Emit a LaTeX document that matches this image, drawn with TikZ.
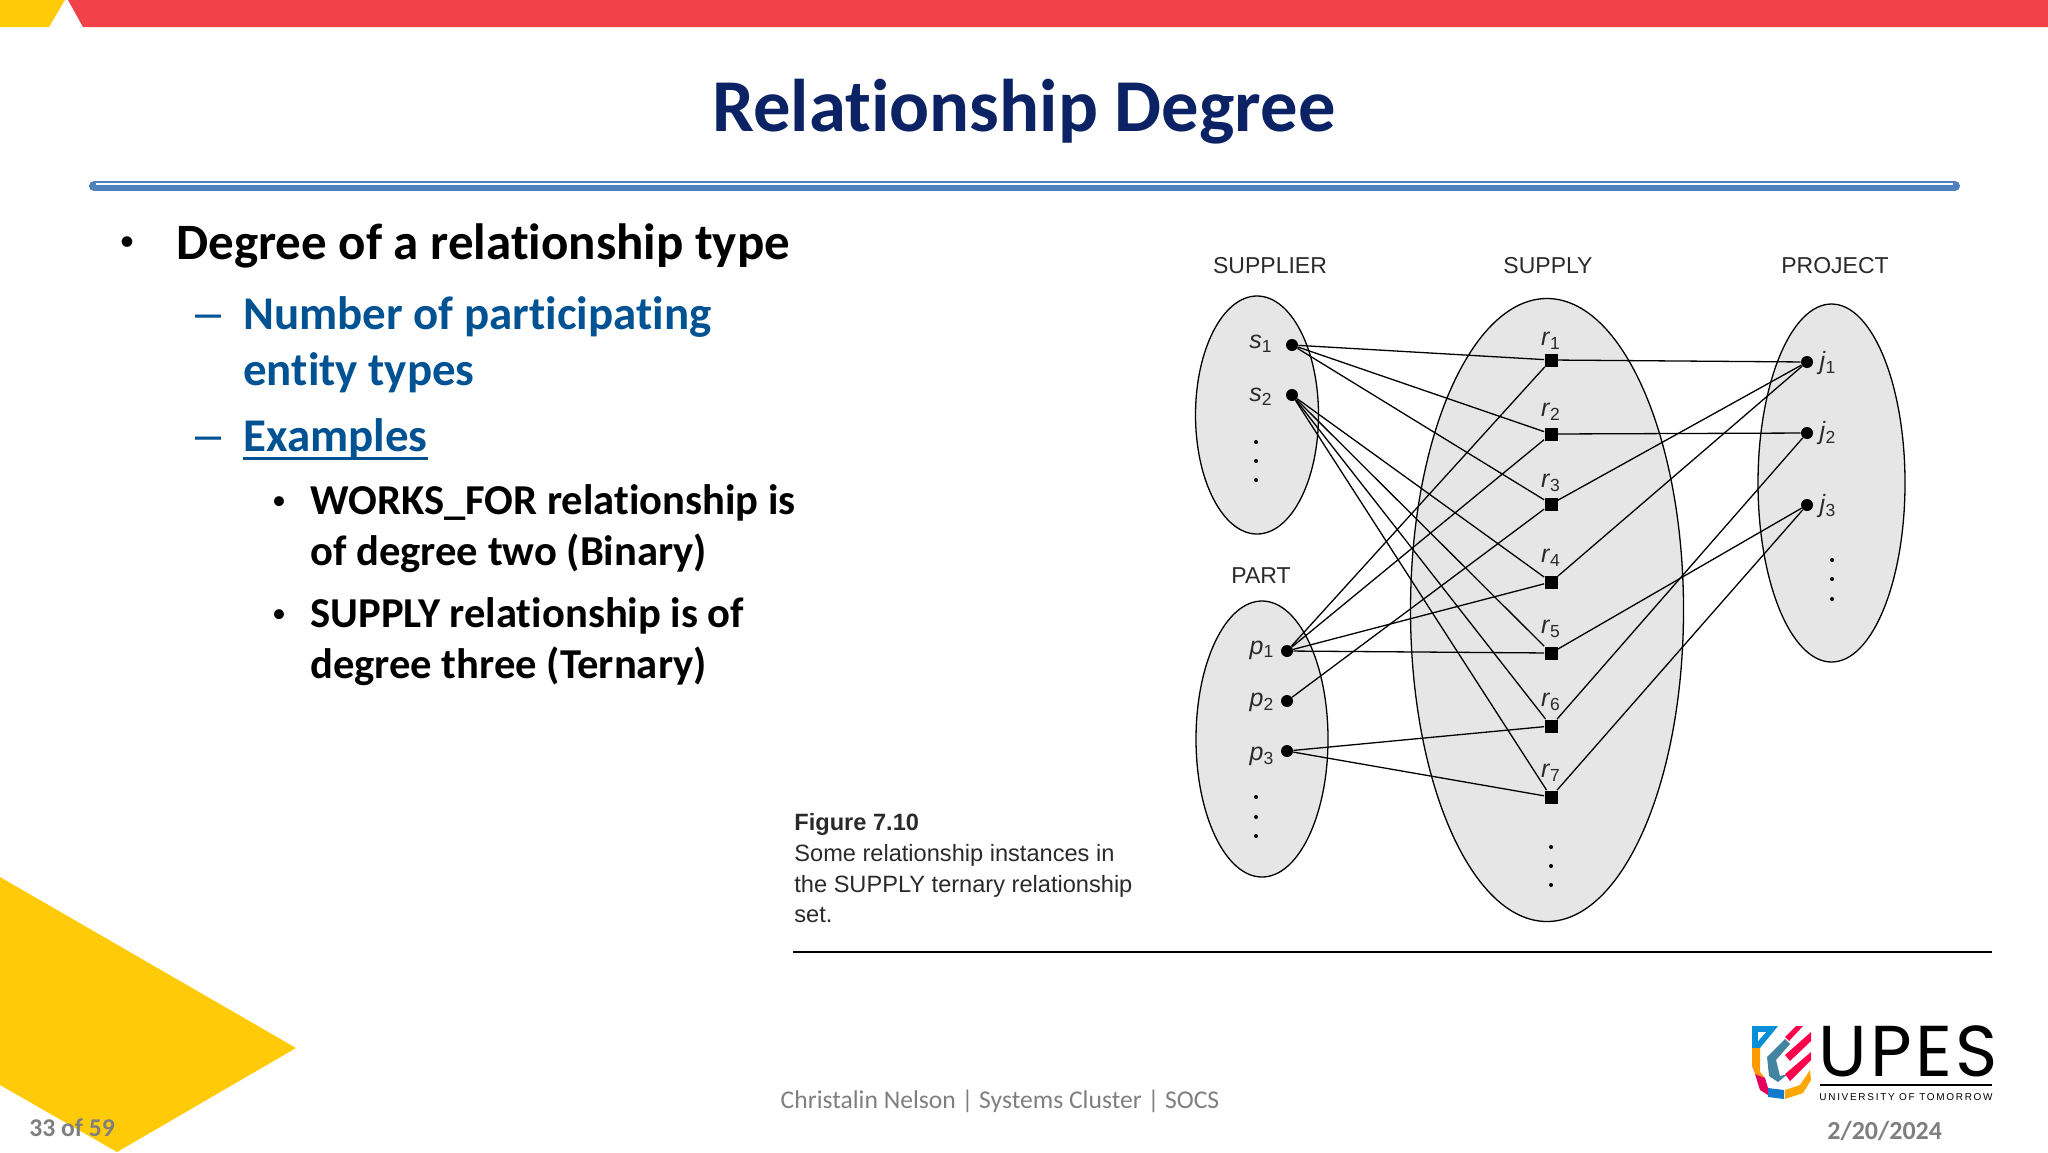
\documentclass[tikz,border=0pt]{standalone}
\usepackage{fontspec}
\setmainfont[Ligatures=NoCommon]{Carlito}
\newfontfamily\figfont{Liberation Sans}
\newfontfamily\logofont[LetterSpace=4.5]{Poppins}
\newfontfamily\tagfont[LetterSpace=17]{Liberation Sans}
\usetikzlibrary{shapes.geometric}

\definecolor{barred}{HTML}{F04248}
\definecolor{baryellow}{HTML}{FFCB08}
\definecolor{titlenavy}{HTML}{0B2265}
\definecolor{rulblue}{HTML}{4F81BD}
\definecolor{textblue}{HTML}{005293}
\definecolor{footgray}{HTML}{7F7F7F}
\definecolor{setgray}{HTML}{E6E6E6}
\definecolor{capgray}{HTML}{2A2A2A}

\newcommand{\sublab}[2]{\textit{#1}\textsubscript{#2}}

\tikzset{
    txt/.style={inner sep=0, anchor=base west, font=\fontsize{#1}{#1}\selectfont\bfseries},
    dot/.style={inner sep=0, anchor=base, font=\fontsize{#1}{#1}\selectfont},
    dashmark/.style={inner sep=0, anchor=base west, text=textblue, font=\figfont\fontsize{23.4}{23.4}\selectfont},
    settype/.style={shape=ellipse, draw=black, fill=setgray, line width=0.65pt, inner sep=0},
    head/.style={inner sep=0, text=capgray, font=\figfont\fontsize{11.5}{11.5}\selectfont},
    lab/.style={inner sep=0, text=capgray, font=\figfont\fontsize{12.5}{12.5}\selectfont},
    ent/.style={shape=circle, fill=black, inner sep=0, minimum size=6pt},
    rel/.style={shape=rectangle, fill=black, inner sep=0, minimum size=6.5pt},
    tick/.style={shape=circle, fill=black, inner sep=0, minimum size=2pt},
    link/.style={-, black, line width=0.65pt},
    capt/.style={inner sep=0, anchor=base west, text=capgray, font=\figfont\fontsize{11.8}{11.8}\selectfont}
}

\begin{document}
\begin{tikzpicture}[x=0.5pt,y=-0.5pt]
    \useasboundingbox (0,0) rectangle (2048,1152);

    % top bar and corner
    \fill[baryellow] (0,0) -- (65,0) -- (49,27) -- (0,27) -- cycle;
    \fill[barred] (68,0) -- (2048,0) -- (2048,27) -- (83,27) -- cycle;
    \fill[baryellow] (0,877) -- (296,1048) -- (117,1152) -- (0,1085) -- cycle;

    % title
    \node[inner sep=0, text=titlenavy, font=\fontsize{37.3}{37.3}\selectfont\bfseries] (title) at (1024,112) {Relationship Degree};
    \draw[rulblue, line width=5pt, line cap=round] (94,186) -- (1955,186);
    \draw[white, line width=0.9pt] (96,184) -- (1953,184);

    % bullets
    \node[dot=15] (b1) at (127,250) {•};
    \node[txt=25.5] (deg) at (176,259) {Degree of a relationship type};
    \node[dashmark] (d1) at (195,328) {–};
    \node[txt=23.45, text=textblue] (num) at (243,329) {Number of participating};
    \node[txt=23.45, text=textblue] (ent) at (243,385) {entity types};
    \node[dashmark] (d2) at (195,450) {–};
    \node[txt=23.45, text=textblue] (ex) at (243,451) {Examples};
    \draw[textblue, line width=1.5pt] ([yshift=-3.5pt]ex.base west) -- ([yshift=-3.5pt]ex.base east);
    \node[dot=14] (b2) at (279,509) {•};
    \node[txt=21.3] (w1) at (310,514) {WORKS\_FOR relationship is};
    \node[txt=21.3] (w2) at (310,565) {of degree two (Binary)};
    \node[dot=14] (b3) at (279,622) {•};
    \node[txt=21.3] (u1) at (310,627) {SUPPLY relationship is of};
    \node[txt=21.3] (u2) at (310,678) {degree three (Ternary)};

    % entity sets
    \node[settype, minimum width=61.5pt, minimum height=119pt] (supplier) at (1257,415) {};
    \node[settype, minimum width=66pt, minimum height=138pt] (part) at (1262,739) {};
    \node[settype, minimum width=136.5pt, minimum height=311.5pt] (supply) at (1547,610) {};
    \node[settype, minimum width=73.5pt, minimum height=179pt] (project) at (1831.5,483) {};

    \node[head] (hs) at (1270,266) {SUPPLIER};
    \node[head] (hy) at (1548,266) {SUPPLY};
    \node[head] (hj) at (1835,266) {PROJECT};
    \node[head] (hp) at (1261,576) {PART};

    % instances
    \node[ent] (s1) at (1292,345) {};
    \node[ent] (s2) at (1292,395) {};
    \node[ent] (p1) at (1287,651) {};
    \node[ent] (p2) at (1287,701) {};
    \node[ent] (p3) at (1287,751) {};
    \node[ent] (j1) at (1807,362) {};
    \node[ent] (j2) at (1807,433) {};
    \node[ent] (j3) at (1807,505) {};
    \node[rel] (r1) at (1551,360) {};
    \node[rel] (r2) at (1551,434) {};
    \node[rel] (r3) at (1551,504) {};
    \node[rel] (r4) at (1551,582) {};
    \node[rel] (r5) at (1551,653) {};
    \node[rel] (r6) at (1551,726) {};
    \node[rel] (r7) at (1551,797) {};

    \node[lab] (ls1) at (1261,344) {\sublab{s}{1}};
    \node[lab] (ls2) at (1261,397) {\sublab{s}{2}};
    \node[lab] (lp1) at (1262,650) {\sublab{p}{1}};
    \node[lab] (lp2) at (1262,702) {\sublab{p}{2}};
    \node[lab] (lp3) at (1262,756) {\sublab{p}{3}};
    \node[lab] (lr1) at (1551,341) {\sublab{r}{1}};
    \node[lab] (lr2) at (1551,412) {\sublab{r}{2}};
    \node[lab] (lr3) at (1551,483) {\sublab{r}{3}};
    \node[lab] (lr4) at (1551,558) {\sublab{r}{4}};
    \node[lab] (lr5) at (1551,629) {\sublab{r}{5}};
    \node[lab] (lr6) at (1551,702) {\sublab{r}{6}};
    \node[lab] (lr7) at (1551,773) {\sublab{r}{7}};
    \node[lab] (lj1) at (1828,363) {\sublab{j}{1}};
    \node[lab] (lj2) at (1828,433) {\sublab{j}{2}};
    \node[lab] (lj3) at (1828,506) {\sublab{j}{3}};

    \foreach \a/\b in {s1/r1,s1/r2,s1/r3,s2/r4,s2/r5,s2/r6,s2/r7,p1/r1,p1/r2,p1/r4,p1/r5,p2/r3,p3/r6,p3/r7,r1/j1,r2/j2,r3/j1,r4/j1,r5/j3,r6/j2,r7/j3}
        \path [link] (\a) edge (\b);

    \foreach \x/\y in {1256/442,1256/461,1256/480,1256/797,1256/817,1256/836,1551/847,1551/866,1551/885,1832/560,1832/579,1832/599}
        \node[tick] at (\x,\y) {};

    % caption
    \node[capt, font=\figfont\fontsize{11.8}{11.8}\selectfont\bfseries] (figno) at (794,830) {Figure 7.10};
    \node[capt] (cap1) at (794,861) {Some relationship instances in};
    \node[capt] (cap2) at (794,892) {the SUPPLY ternary relationship};
    \node[capt] (cap3) at (794,922) {set.};
    \draw[black, line width=0.8pt] (793,952) -- (1992,952);

    % footer
    \node[inner sep=0, text=footgray, font=\fontsize{12.8}{12.8}\selectfont] (foot) at (1000,1101) {Christalin Nelson | Systems Cluster | SOCS};
    \node[inner sep=0, anchor=base west, text=footgray, font=\fontsize{12.8}{12.8}\selectfont\bfseries] (page) at (29,1136) {33 of 59};
    \node[inner sep=0, anchor=base west, text=footgray, font=\fontsize{13}{13}\selectfont\bfseries] (date) at (1827,1139) {2/20/2024};

    % logo
    \fill[cyan!75!blue] (1752,1026) -- (1778,1026) -- (1760,1048) -- (1752,1048) -- cycle;
    \fill[white] (1758,1032) -- (1766,1032) -- (1758,1041) -- cycle;
    \fill[orange!80!yellow] (1752,1048) -- (1760,1048) -- (1760,1072) -- (1765,1078) -- (1755,1074) -- (1752,1066) -- cycle;
    \fill[red!60!magenta!90!black] (1755,1074) -- (1765,1078) -- (1768,1088) -- (1768,1095) -- (1760,1090) -- cycle;
    \fill[cyan!60!blue] (1768,1088) -- (1784,1090) -- (1784,1099) -- (1768,1097) -- cycle;
    \fill[orange!70!yellow] (1785,1090) -- (1800,1085) -- (1810,1070) -- (1811,1080) -- (1803,1093) -- (1785,1099) -- cycle;
    \fill[cyan!60!black] (1767,1057) -- (1785,1039) -- (1790,1044) -- (1776,1060) -- (1780,1076) -- (1788,1074) -- (1778,1082) -- (1769,1076) -- cycle;
    \fill[red!70!magenta] (1785,1037) -- (1796,1026) -- (1803,1026) -- (1789,1041) -- cycle;
    \fill[red!70!magenta] (1785,1055) -- (1811,1032) -- (1811,1041) -- (1790,1061) -- cycle;
    \fill[red!70!magenta] (1785,1074) -- (1811,1052) -- (1811,1060) -- (1790,1081) -- cycle;
    \node[inner sep=0, anchor=base west, font=\logofont\fontsize{36}{36}\selectfont] (upes) at (1818,1076) {UPES};
    \draw[black, line width=0.6pt] (1820,1085) -- (1992,1085);
    \node[inner sep=0, anchor=base west, font=\tagfont\fontsize{5}{5}\selectfont] (tag) at (1819,1100) {UNIVERSITY OF TOMORROW};
\end{tikzpicture}
\end{document}
